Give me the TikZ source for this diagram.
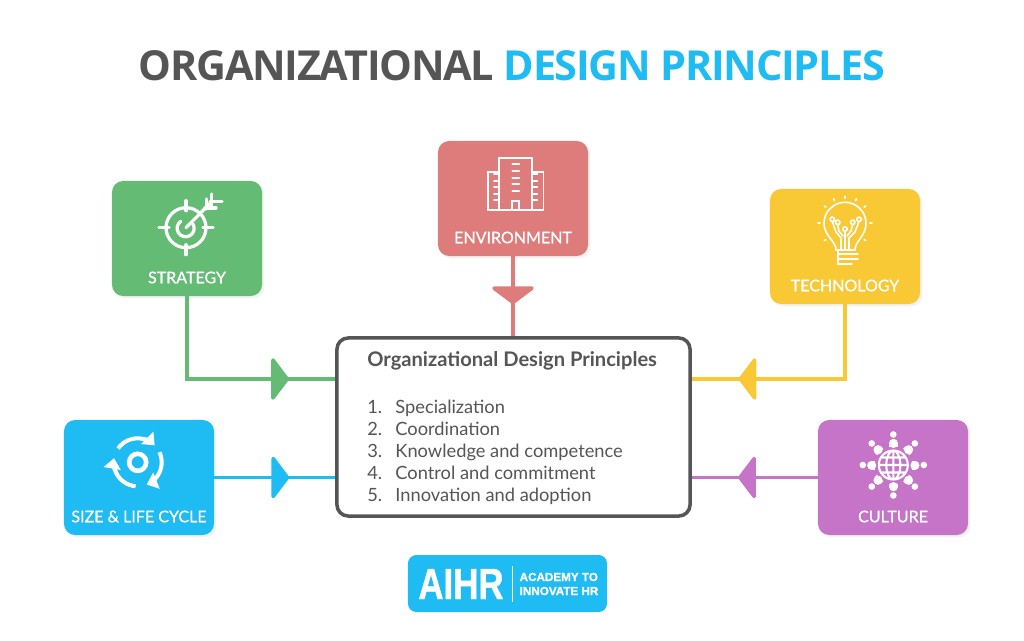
\documentclass[tikz,border=0pt]{standalone}
\usepackage{fontspec}
\usepackage{graphicx}
\setmainfont{Lato}
\newfontfamily\titlefont[LetterSpace=-3]{Open Sans}
\newfontfamily\logofont[RawFeature={embolden=1}]{Liberation Sans}
\newfontfamily\labelfont[RawFeature={embolden=.7}]{Lato}
\usetikzlibrary{arrows.meta,decorations.markings,shadows}
\definecolor{inkgrey}{HTML}{555555}
\definecolor{aihrblue}{HTML}{1FBBF3}
\definecolor{stratgreen}{HTML}{64BC74}
\definecolor{envred}{HTML}{DE7C7C}
\definecolor{techyellow}{HTML}{F8C835}
\definecolor{cultpurple}{HTML}{C574C8}
\tikzset{
  tilebox/.style={rounded corners=8pt,minimum width=3.75cm,minimum height=2.875cm,inner sep=0pt,
    drop shadow={shadow xshift=.06cm,shadow yshift=-.06cm,opacity=.10}},
  tilelabel/.style={text=white,inner sep=0pt,font=\labelfont\fontsize{11.4}{13}\selectfont},
  flow/.style={line width=2.5pt},
  midtip/.style={postaction={decorate,decoration={markings,
    mark=at position #1 with {\arrow{Triangle[width=34pt,length=13pt,round]}}}}},
  icon/.style={draw=white,line width=2.3pt,line cap=round},
  thinicon/.style={draw=white,line width=1.15pt,line cap=round},
  cycleicon/.style={draw=white,line width=2.9pt,-{Triangle[width=12pt,length=7.5pt]}},
}
\begin{document}
\begin{tikzpicture}[x=.025cm,y=-.025cm]
\useasboundingbox (0,0) rectangle (1024,640);
\node[font=\titlefont\bfseries\fontsize{29.4}{36}\selectfont,text=inkgrey,inner sep=0pt] (title) at (512,66)
  {ORGANIZATIONAL \textcolor{aihrblue}{DESIGN PRINCIPLES}};

% centre box
\node[draw=inkgrey,fill=white,line width=2.5pt,rounded corners=8pt,minimum width=8.825cm,minimum height=4.45cm,
  drop shadow={shadow xshift=.04cm,shadow yshift=-.04cm,opacity=.08}] (core) at (513.5,427) {};
\node[anchor=west,inner sep=0pt,text=inkgrey,font=\bfseries\fontsize{14.3}{16}\selectfont] (coretitle) at (367,361) {Organizational Design Principles};
\node[anchor=north west,align=left,inner sep=0pt,text=inkgrey,font=\fontsize{13}{15.65}\selectfont] (corelist) at (367,400) {%
  \makebox[20pt][l]{1.}Specialization\\
  \makebox[20pt][l]{2.}Coordination\\
  \makebox[20pt][l]{3.}Knowledge and competence\\
  \makebox[20pt][l]{4.}Control and commitment\\
  \makebox[20pt][l]{5.}Innovation and adoption};

% tiles
\node[tilebox,fill=stratgreen] (strategy) at (187,238.5) {};
\node[tilebox,fill=envred] (environment) at (513,198.5) {};
\node[tilebox,fill=techyellow] (technology) at (845,246.5) {};
\node[tilebox,fill=aihrblue] (size) at (139,477.5) {};
\node[tilebox,fill=cultpurple] (culture) at (893,477.5) {};
\node[tilelabel] (strategylabel) at (187,277.5) {STRATEGY};
\node[tilelabel] (environmentlabel) at (513,237.5) {ENVIRONMENT};
\node[tilelabel] (technologylabel) at (845,285.5) {TECHNOLOGY};
\node[tilelabel] (sizelabel) at (139,516.5) {SIZE \& LIFE CYCLE};
\node[tilelabel] (culturelabel) at (893,516.5) {CULTURE};

% connectors
\coordinate (coreleft) at (core.west |- 0,379);
\coordinate (coreright) at (core.east |- 0,379);
\draw[flow,stratgreen,midtip=.80] (strategy.south) |- (coreleft);
\draw[flow,envred,midtip=.60] (environment.south) -- (core.north -| environment.south);
\draw[flow,techyellow,midtip=.795] (technology.south) |- (coreright);
\draw[flow,aihrblue,midtip=.62] (size.east) -- (core.west |- size.east);
\draw[flow,cultpurple,midtip=.632] (culture.west) -- (core.east |- culture.west);

% target
\draw[icon] (186,227.7) circle (20);
\foreach \a in {0,90,180,270} \draw[icon] (186,227.7)++(\a:17) -- ++(\a:10);
\draw[icon] (193,224) arc (-30:235:8.5);
\draw[icon] (186,227.7) -- (211.7,201.7);
\draw[icon] (211.7,194) -- (211.7,206) (206.3,199) -- (206.3,209) (222,201.7) -- (210,201.7) (216,208) -- (205,208);

% building
\draw[thinicon] (488.3,171.7) rectangle (499.3,210) (499.3,210) -- (499.3,158.3) -- (531.7,158.3) -- (531.7,210)
  (531.7,171.7) rectangle (543.3,210) (488.3,210) -- (543.3,210) (512.3,210) -- (512.3,200.7) -- (519.3,200.7) -- (519.3,210);
\foreach \y in {164.3,170.7,177.7,184.3,191} \draw[thinicon] (512.3,\y) -- (519.3,\y);
\foreach \y in {174.3,180.7,187.3,194,200} \draw[thinicon] (494,\y) -- (498,\y) (533,\y) -- (537.3,\y);

% bulb
\draw[thinicon] (836,250) .. controls (836,241) and (824,236) .. (824,223.3) arc (180:360:21) .. controls (866,236) and (855,241) .. (855,250);
\draw[thinicon] (836,250) -- (855,250) (838,250) -- (838,264) -- (852,264) (838,254) -- (858,254) (838,259) -- (858,259);
\foreach \a in {0,-40,-65,-90,-115,-140,180,40,140} \draw[thinicon] (845,223.3)++(\a:25) -- ++(\a:2);
\foreach \x/\y in {832.3/219.3,837.7/222.3,845/229,852.7/222.3,859/219.3} \draw[thinicon] (\x,\y) circle (2.2);
\draw[thinicon] (845,231.2) -- (845,249) (832.3,221.5) -- (836,232) -- (841,238) -- (841,249)
  (837.7,224.5) -- (839,231) -- (843,236) (859,221.5) -- (855,232) -- (849,238) -- (849,249) (852.7,224.5) -- (851,231) -- (847,236);

% cycle
\draw[draw=white,line width=3.3pt] (137.7,462.3) circle (8.5);
\draw[cycleicon] (137.7,462.3)++(-145:24) arc (-145:-45:24);
\draw[cycleicon] (137.7,462.3)++(-25:24) arc (-25:68:24);
\draw[cycleicon] (137.7,462.3)++(95:24) arc (95:190:24);

% globe and people
\draw[draw=white,line width=1.5pt] (893.3,465) circle (14.5) (893.3,465) ellipse (7 and 14.5) (878.8,465) -- (907.8,465)
  (880.5,457.5) -- (906,457.5) (880.5,472.5) -- (906,472.5) (893.3,450.5) -- (893.3,479.5);
\foreach \a in {0,45,...,315} {
  \fill[white] (893.3,465)++(\a:30.5) circle (3.3);
  \draw[white,line width=6.4pt] (893.3,465)++(\a:18.5) -- ++(\a:3.5);
  \draw[white,line width=6.4pt,line cap=round] (893.3,465)++(\a:21.5) -- ++(\a:.2);
}

% logo
\node[fill=aihrblue,rounded corners=6pt,minimum width=4.975cm,minimum height=1.425cm,inner sep=0pt] (logo) at (507.5,583.5) {};
\node[text=white,inner sep=0pt,font=\logofont\bfseries\fontsize{31}{36}\selectfont] (logoname) at (461,584) {\scalebox{.8}[1]{AIHR}};
\node[text=white,inner sep=0pt,align=left,font=\logofont\bfseries\fontsize{8.3}{10}\selectfont] (logotag) at (559,584) {ACADEMY TO\\INNOVATE HR};
\draw[white,line width=.8pt] ([yshift=-.45cm]logo.center -| 512.5,0) -- ([yshift=.45cm]logo.center -| 512.5,0);
\end{tikzpicture}
\end{document}
